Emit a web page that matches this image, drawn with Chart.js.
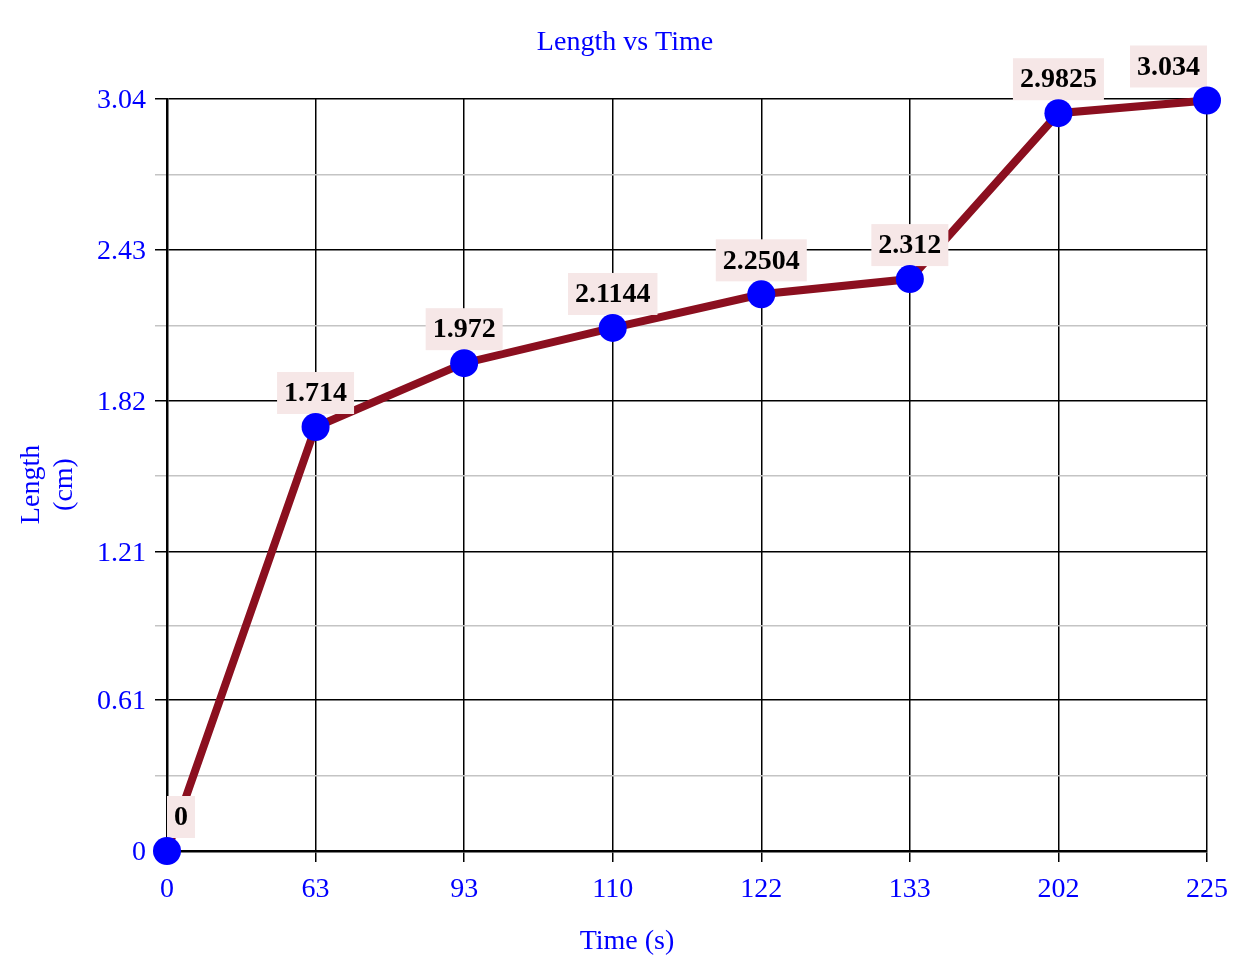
<!DOCTYPE html>
<html>
<head>
<meta charset="utf-8">
<script src="https://cdn.jsdelivr.net/npm/chart.js@4.4.1/dist/chart.umd.min.js"></script>
<style>
    html, body { margin: 0; padding: 0; background: #fff; }
    #wrap { width: 1248px; height: 963px; }
</style>
</head>
<body>
<div id="wrap"><canvas id="chart"></canvas></div>
<script>
// ── Data ─────────────────────────────────────────────────────────────────────

const TIMES = ['0', '63', '93', '110', '122', '133', '202', '225'];
const LENGTHS = [0, 1.714, 1.972, 2.1144, 2.2504, 2.312, 2.9825, 3.034];

const Y_MAJOR = [0, 0.61, 1.21, 1.82, 2.43, 3.04];
const Y_LABELS = ['0', '0.61', '1.21', '1.82', '2.43', '3.04'];
const Y_MINOR = [0.305, 0.91, 1.515, 2.125, 2.735];

const CHART_TITLE = 'Length vs Time';
const X_TITLE = 'Time (s)';
const Y_TITLE = ['Length', '(cm)'];

// ── Styles ───────────────────────────────────────────────────────────────────

const FONT_FAMILY = '"Liberation Serif", "Times New Roman", Times, serif';
const TEXT_BLUE = '#0000ff';
const LINE_RED = '#8b0f1f';
const LABEL_BG = '#f6e7e7';

const isMajor = tick => tick && Y_MAJOR.includes(tick.value);

// value boxes: drawn after the line but before the dots
const valueBoxes = {
    id: 'valueBoxes',
    afterDatasetDraw(chart, args) {
        if (args.index !== 0) return;
        const { ctx, chartArea } = chart;
        ctx.save();
        ctx.font = `bold 28px ${FONT_FAMILY}`;
        ctx.textAlign = 'center';
        ctx.textBaseline = 'middle';
        args.meta.data.forEach((pt, i) => {
            const text = String(LENGTHS[i]);
            const w = ctx.measureText(text).width + 14;
            const h = 42;
            let x = pt.x - w / 2;
            x = Math.max(chartArea.left, Math.min(x, chartArea.right - w));
            const y = pt.y - 13 - h;
            ctx.fillStyle = LABEL_BG;
            ctx.fillRect(x, y, w, h);
            ctx.fillStyle = '#000';
            ctx.fillText(text, x + w / 2, y + h / 2 + 1);
        });
        ctx.restore();
    },
};

// titles are centred on the whole canvas, not on the plot area
const pageTitles = {
    id: 'pageTitles',
    afterDraw(chart) {
        const { ctx, width } = chart;
        ctx.save();
        ctx.font = `28px ${FONT_FAMILY}`;
        ctx.fillStyle = TEXT_BLUE;
        ctx.textAlign = 'center';
        ctx.textBaseline = 'alphabetic';
        ctx.fillText(CHART_TITLE, width / 2 + 1, 49.5);
        ctx.fillText(X_TITLE, width / 2 + 3, 949);

        Y_TITLE.forEach((line, i) => {
            ctx.save();
            ctx.translate(38.5 + i * 33.6, 484.5);
            ctx.rotate(-Math.PI / 2);
            ctx.fillText(line, 0, 0);
            ctx.restore();
        });
        ctx.restore();
    },
};

new Chart(document.getElementById('chart'), {
    type: 'line',
    data: {
        labels: TIMES,
        datasets: [
            {
                label: 'Length',
                data: LENGTHS,
                borderColor: LINE_RED,
                borderWidth: 8,
                pointRadius: 0,
                tension: 0,
                clip: false,
                order: 2,
            },
            {
                label: 'Points',
                data: LENGTHS,
                showLine: false,
                pointRadius: 14,
                pointBackgroundColor: '#0000ff',
                pointBorderWidth: 0,
                clip: false,
                order: 1,
            },
        ],
    },
    options: {
        responsive: true,
        maintainAspectRatio: false,
        animation: false,
        events: [],
        layout: { padding: { left: 0, right: 41, top: 99, bottom: 0 } },
        plugins: {
            legend: { display: false },
            tooltip: { enabled: false },
            title: { display: false },
        },
        scales: {
            x: {
                offset: false,
                grid: { color: '#000', lineWidth: 1.5, tickLength: 11, tickColor: '#000' },
                border: { color: '#000', width: 2.5 },
                ticks: {
                    color: TEXT_BLUE,
                    font: { family: FONT_FAMILY, size: 28 },
                    padding: 11,
                    maxRotation: 0,
                    autoSkip: false,
                },
                afterFit: s => { s.height = 112; },
            },
            y: {
                min: 0,
                max: 3.04,
                afterBuildTicks: s => {
                    s.ticks = [...Y_MAJOR, ...Y_MINOR].sort((a, b) => a - b).map(v => ({ value: v }));
                },
                grid: {
                    color: ctx => isMajor(ctx.tick) ? '#000' : '#c4c4c4',
                    tickColor: ctx => isMajor(ctx.tick) ? '#000' : '#c4c4c4',
                    lineWidth: 1.5,
                    tickLength: 12,
                },
                border: { color: '#000', width: 2.5 },
                ticks: {
                    color: TEXT_BLUE,
                    font: { family: FONT_FAMILY, size: 28 },
                    padding: 9,
                    labelOffset: 2,
                    autoSkip: false,
                    callback: v => {
                        const k = Y_MAJOR.indexOf(v);
                        return k >= 0 ? Y_LABELS[k] : '';
                    },
                },
                afterFit: s => { s.width = 167; },
            },
        },
    },
    plugins: [valueBoxes, pageTitles],
});
</script>
</body>
</html>
